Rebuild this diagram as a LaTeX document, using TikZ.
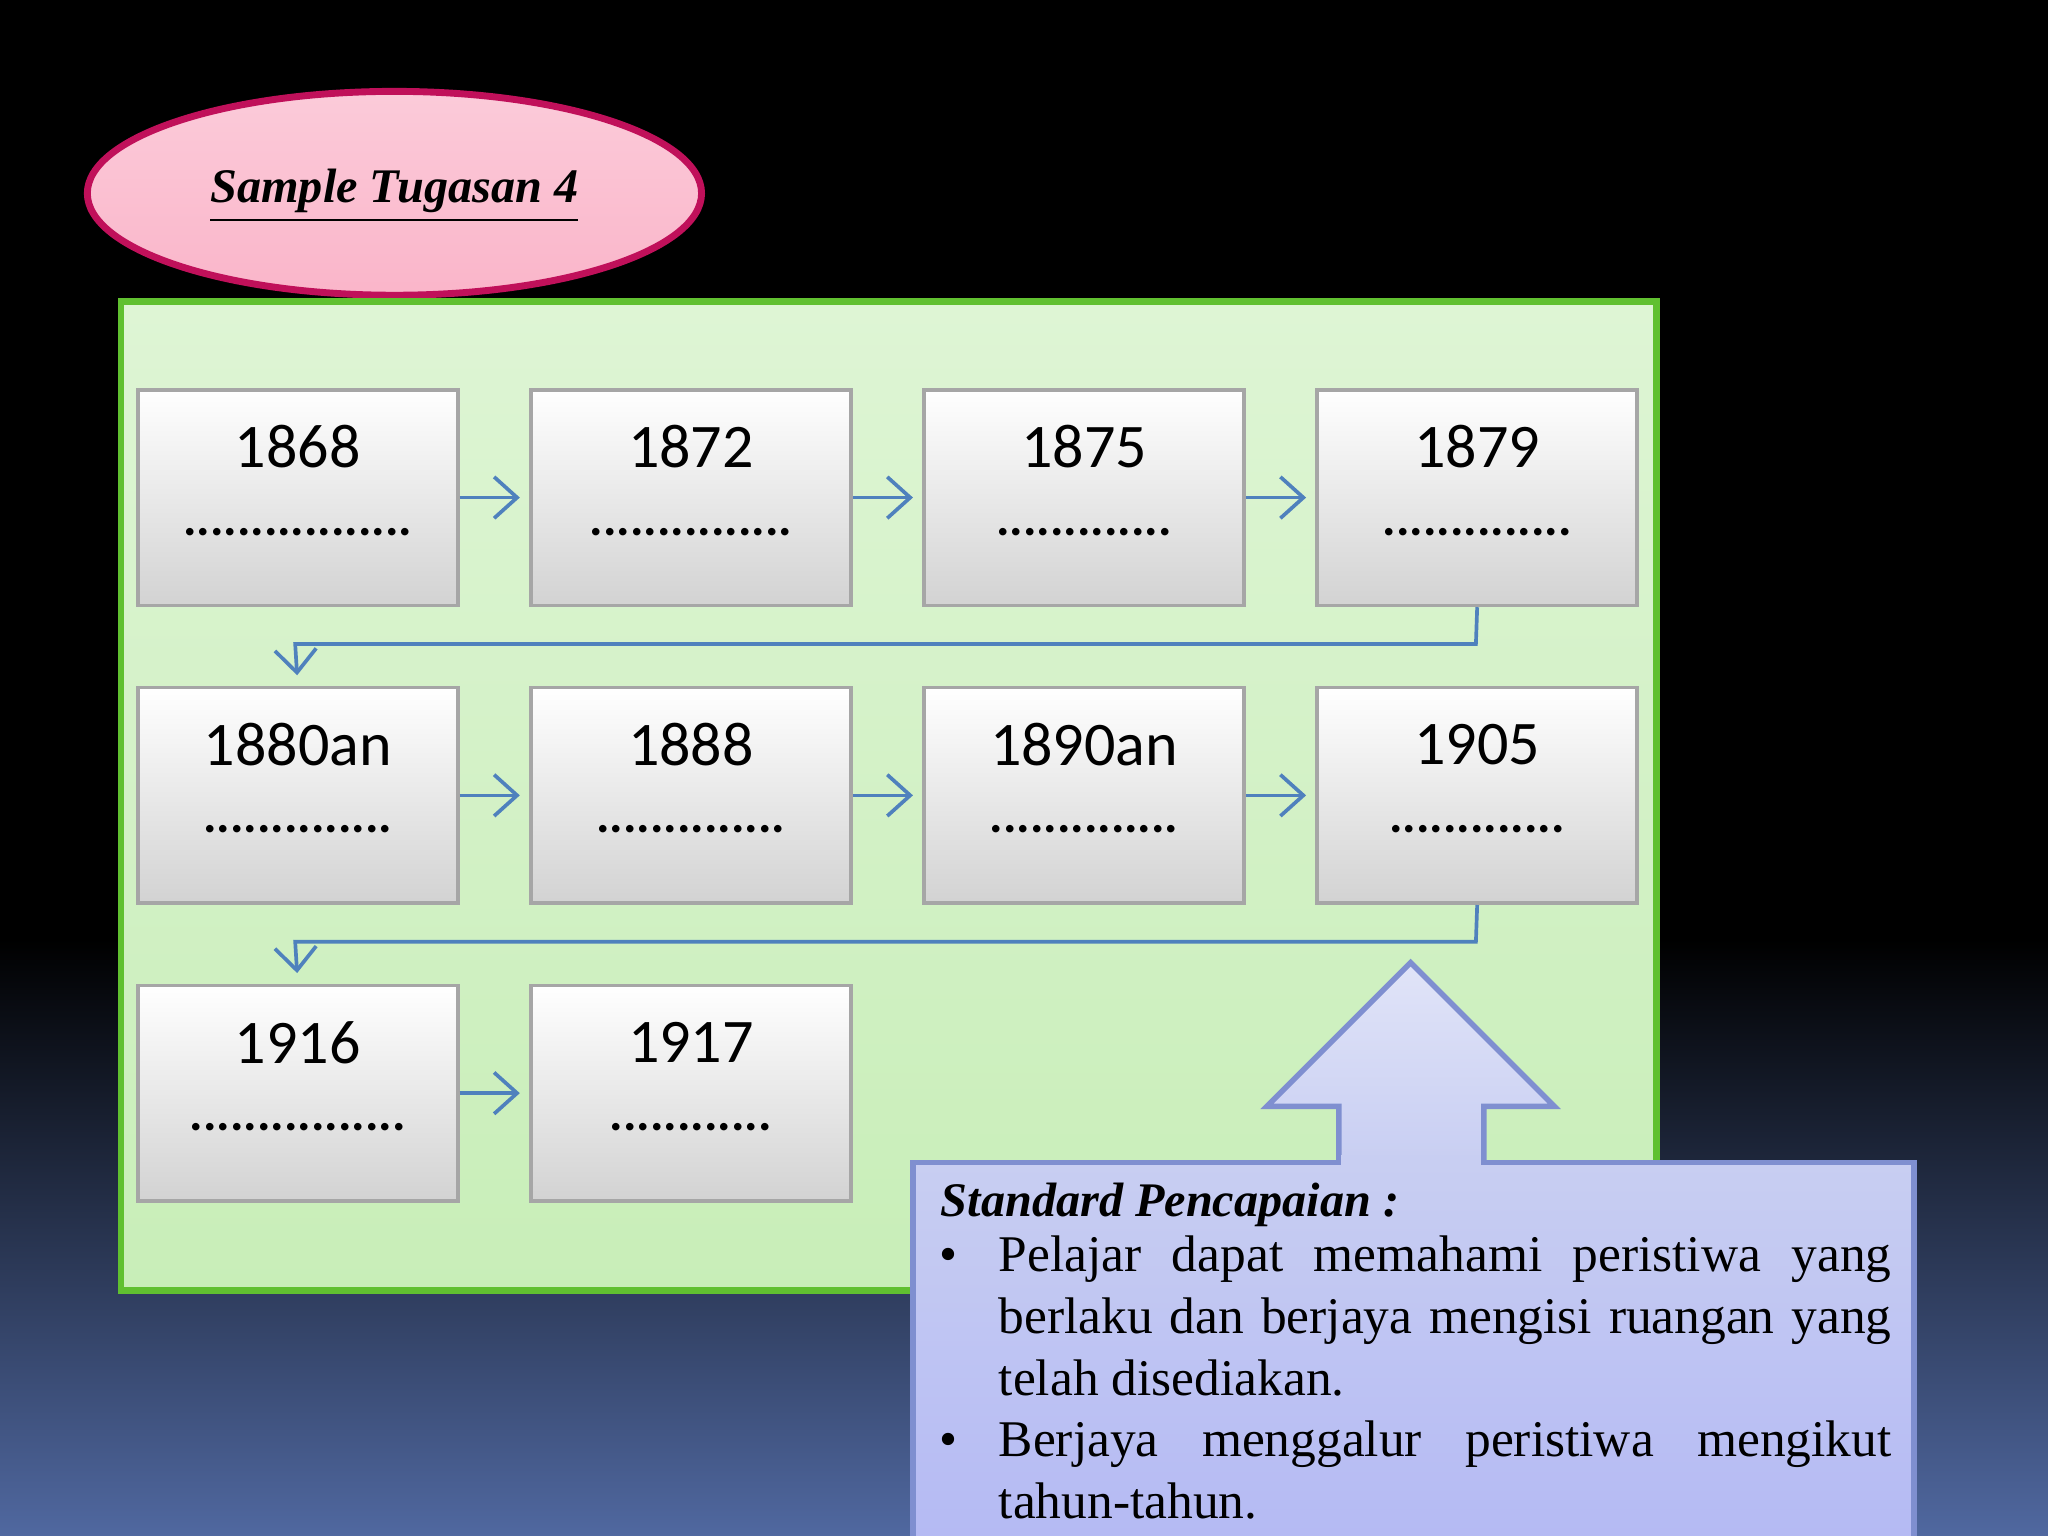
\documentclass[tikz,border=0pt]{standalone}
\usepackage{fontspec}
\setmainfont{Liberation Serif}
\newfontfamily\calib{Carlito}
\usetikzlibrary{shapes.geometric,arrows.meta}
\definecolor{lnblue}{HTML}{4F81BD}
\definecolor{bgblue}{HTML}{5068A0}
\definecolor{pinkfill}{HTML}{F9A8C0}
\definecolor{pinkedge}{HTML}{C0105A}
\definecolor{greenfill}{HTML}{C8EEB8}
\definecolor{greenedge}{HTML}{60C030}
\definecolor{lavfill}{HTML}{C8CEF2}
\definecolor{lavedge}{HTML}{7F8FD0}
\tikzset{
  yearbox/.style={draw=gray!70,line width=0.8pt,top color=white,bottom color=gray!35,minimum width=2.45cm,minimum height=1.65cm,anchor=north west,inner sep=0pt},
  yr/.style={font=\calib\fontsize{13.5}{15}\selectfont},
  dt/.style={font=\calib\fontsize{11}{13}\selectfont\bfseries},
  conn/.style={draw=lnblue,line width=0.8pt,-{Straight Barb[length=5pt,width=9pt]}}
}
\begin{document}
\begin{tikzpicture}[x=0.01cm,y=-0.01cm]
\useasboundingbox (0,0) rectangle (1568,1176);
\fill[black] (0,0) rectangle (1568,720);
\shade[top color=black,bottom color=bgblue] (0,719) rectangle (1568,1176);
% title ellipse
\node[ellipse,draw=pinkedge,line width=1.5pt,top color=pinkfill!60!white,bottom color=pinkfill!85!white,minimum width=4.7cm,minimum height=1.56cm] (title) at (302,148) {};
\node[font=\fontsize{10.5}{12}\selectfont\bfseries\itshape] (tt) at (302,150) {\underline{Sample Tugasan 4}};
% green panel
\node[draw=greenedge,line width=1.5pt,top color=greenfill!60!white,bottom color=greenfill,minimum width=11.75cm,minimum height=7.57cm,anchor=north west,inner sep=0pt] (panel) at (90,228) {};
% boxes
\foreach \n/\x/\y/\t/\d in {a/104/297/1868/{.................},b/405/297/1872/{...............},c/706/297/1875/{.............},d/1007/297/1879/{..............},
e/104/525/1880an/{..............},f/405/525/1888/{..............},g/706/525/1890an/{..............},h/1007/525/1905/{.............},
i/104/753/1916/{................},j/405/753/1917/{............}}{
  \node[yearbox] (\n) at (\x,\y) {};
  \node[yr] (\n t) at ([yshift=-0.45cm]\n.north) {\t};
  \node[dt] (\n d) at ([yshift=-1.1cm]\n.north) {\d};
}
\foreach \p/\q in {a/b,b/c,c/d,e/f,f/g,g/h,i/j}{
  \draw[conn,shorten >=0.07cm] (\p.east) -- (\q.west);
}
\coordinate (r1) at (1130,493);
\coordinate (r1b) at (226,493);
\draw[conn,shorten >=0.08cm] (d.south) -- (r1) -- (r1b) -- (e.north);
\coordinate (r2) at (1130,721);
\coordinate (r2b) at (226,721);
\draw[conn,shorten >=0.08cm] (h.south) -- (r2) -- (r2b) -- (i.north);
% big arrow
\draw[draw=lavedge,line width=1.2pt,top color=lavfill!55!white,bottom color=lavfill] (1080,737) -- (1190,847) -- (1136,847) -- (1136,890) -- (1025,890) -- (1025,847) -- (970,847) -- cycle;
\node[draw=lavedge,line width=1.2pt,top color=lavfill,bottom color=lavfill!90!blue,minimum width=7.66cm,minimum height=2.95cm,anchor=north west,inner sep=0pt] (sp) at (697,888) {};
\fill[lavfill] (1027,884) rectangle (1134,892);
\node[anchor=north west,font=\fontsize{10.5}{13}\selectfont\bfseries\itshape] (sph) at (708,893) {Standard Pencapaian :};
\node[anchor=north west,text width=7.35cm,align=justify,inner sep=0pt,font=\fontsize{11.2}{13.4}\selectfont] (spl) at (712,926) {%
\begin{list}{\textbullet}{\leftmargin=0.52cm\labelwidth=0.2cm\labelsep=0.32cm\itemsep=0pt\parsep=0pt\topsep=0pt}
\item Pelajar dapat memahami peristiwa yang berlaku dan berjaya mengisi ruangan yang telah disediakan.
\item Berjaya menggalur peristiwa mengikut tahun-tahun.
\end{list}};
\end{tikzpicture}
\end{document}
